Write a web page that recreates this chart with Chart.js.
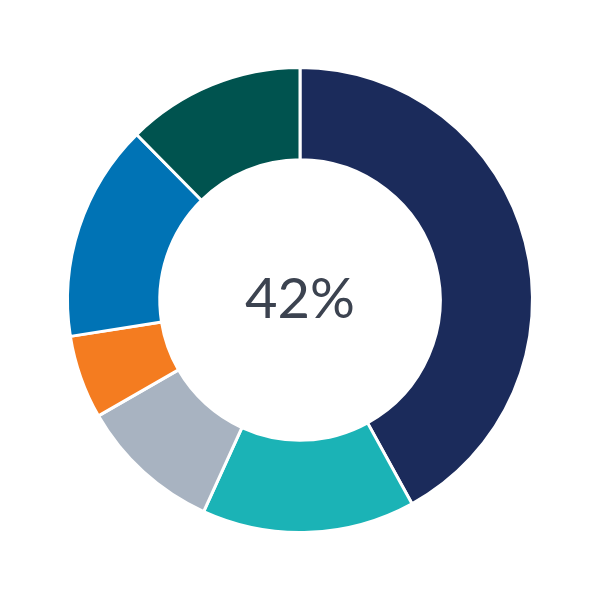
<!DOCTYPE html>
<html>
<head>
<meta charset="utf-8">
<script src="https://cdn.jsdelivr.net/npm/chart.js@4.4.0/dist/chart.umd.min.js"></script>
<style>
html,body{margin:0;padding:0;background:#fff;}
#wrap{width:600px;height:600px;}
</style>
</head>
<body>
<div id="wrap"><canvas id="c"></canvas></div>
<script>
const categories = ["A", "B", "C", "D", "E", "F"];
const values = [42, 14.8, 9.9, 5.8, 15.1, 12.4];
const colors = ["#1b2b5b", "#1bb3b6", "#a8b3c1", "#f47c20", "#0073b5", "#00534f"];
const centerLabel = "42%";

const centerText = {
  id: 'centerText',
  afterDraw(chart) {
    const meta = chart.getDatasetMeta(0);
    if (!meta.data.length) return;
    const arc = meta.data[0];
    const ctx = chart.ctx;
    ctx.save();
    ctx.fillStyle = "#3c4350";
    ctx.font = "400 56px Lato";
    ctx.textAlign = "center";
    ctx.textBaseline = "middle";
    ctx.fillText(centerLabel, arc.x, arc.y);
    ctx.restore();
  }
};

new Chart(document.getElementById('c'), {
  type: 'doughnut',
  data: {
    labels: categories,
    datasets: [{
      data: values,
      backgroundColor: colors,
      borderColor: "#ffffff",
      borderWidth: 3,
      hoverOffset: 0
    }]
  },
  options: {
    responsive: true,
    maintainAspectRatio: false,
    animation: false,
    cutout: '60.3%',
    layout: { padding: 66 },
    plugins: { legend: { display: false }, tooltip: { enabled: false } }
  },
  plugins: [centerText]
});
</script>
</body>
</html>
